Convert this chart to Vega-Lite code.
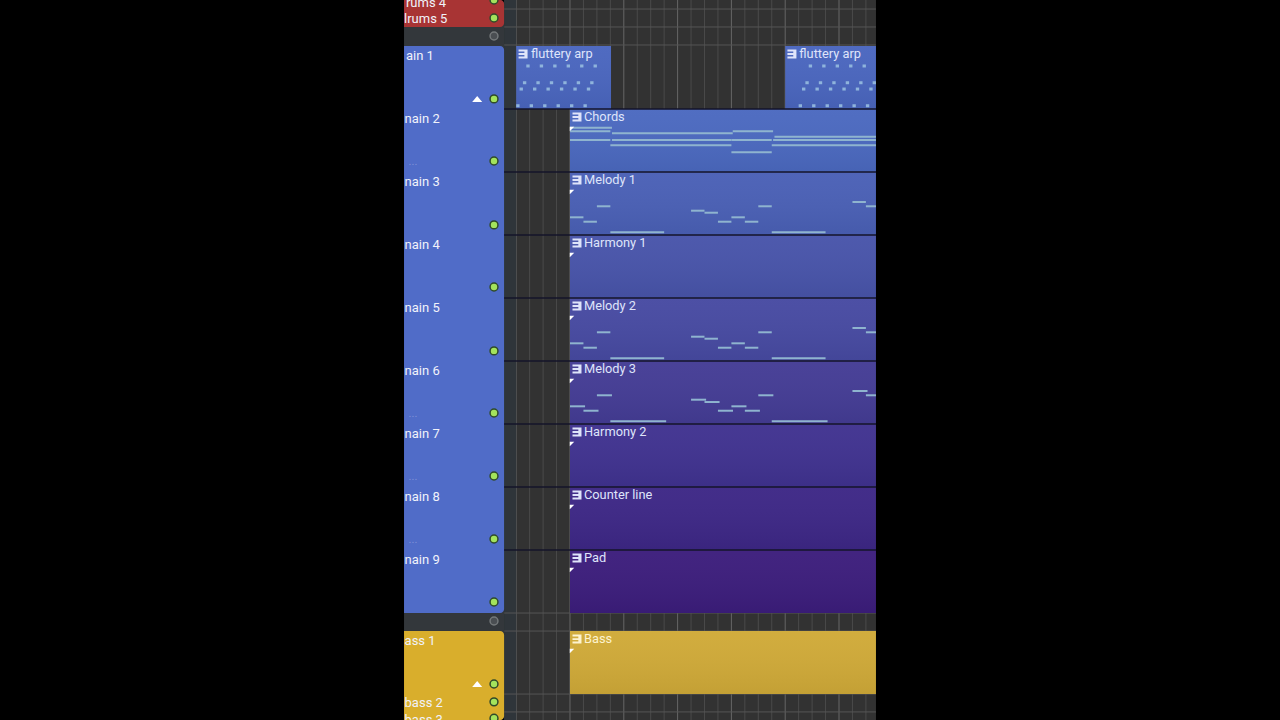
{
  "$schema": "https://vega.github.io/schema/vega-lite/v6.json",
  "width": 1280,
  "height": 720,
  "padding": 0,
  "autosize": "none",
  "background": "#000000",
  "config": {"view": {"stroke": null}},
  "resolve": {"scale": {"color": "independent"}},
  "datasets": {
    "beats": [
      {"start": -4, "kind": "bar", "lane": -0.7302, "lane2": 10.698}, {"start": -3, "kind": "beat", "lane": -0.7302, "lane2": 10.698}, {"start": -2, "kind": "beat", "lane": -0.7302, "lane2": 10.698}, {"start": -1, "kind": "beat", "lane": -0.7302, "lane2": 10.698},
      {"start": 0, "kind": "bar", "lane": -0.7302, "lane2": 10.698}, {"start": 1, "kind": "beat", "lane": -0.7302, "lane2": 10.698}, {"start": 2, "kind": "beat", "lane": -0.7302, "lane2": 10.698}, {"start": 3, "kind": "beat", "lane": -0.7302, "lane2": 10.698},
      {"start": 4, "kind": "bar", "lane": -0.7302, "lane2": 10.698}, {"start": 5, "kind": "beat", "lane": -0.7302, "lane2": 10.698}, {"start": 6, "kind": "beat", "lane": -0.7302, "lane2": 10.698}, {"start": 7, "kind": "beat", "lane": -0.7302, "lane2": 10.698},
      {"start": 8, "kind": "bar", "lane": -0.7302, "lane2": 10.698}, {"start": 9, "kind": "beat", "lane": -0.7302, "lane2": 10.698}, {"start": 10, "kind": "beat", "lane": -0.7302, "lane2": 10.698}, {"start": 11, "kind": "beat", "lane": -0.7302, "lane2": 10.698},
      {"start": 12, "kind": "bar", "lane": -0.7302, "lane2": 10.698}, {"start": 13, "kind": "beat", "lane": -0.7302, "lane2": 10.698}, {"start": 14, "kind": "beat", "lane": -0.7302, "lane2": 10.698}, {"start": 15, "kind": "beat", "lane": -0.7302, "lane2": 10.698},
      {"start": 16, "kind": "bar", "lane": -0.7302, "lane2": 10.698}, {"start": 17, "kind": "beat", "lane": -0.7302, "lane2": 10.698}, {"start": 18, "kind": "beat", "lane": -0.7302, "lane2": 10.698}, {"start": 19, "kind": "beat", "lane": -0.7302, "lane2": 10.698},
      {"start": 20, "kind": "bar", "lane": -0.7302, "lane2": 10.698}, {"start": 21, "kind": "beat", "lane": -0.7302, "lane2": 10.698}, {"start": 22, "kind": "beat", "lane": -0.7302, "lane2": 10.698}
    ],
    "clips": [
      {"name": "fluttery arp", "start": -4, "end": 3.05, "lane": 0, "lane2": 1},
      {"name": "fluttery arp", "start": 16, "end": 22.75, "lane": 0, "lane2": 1},
      {"name": "Chords", "start": 0, "end": 22.75, "lane": 1, "lane2": 2},
      {"name": "Melody 1", "start": 0, "end": 22.75, "lane": 2, "lane2": 3},
      {"name": "Harmony 1", "start": 0, "end": 22.75, "lane": 3, "lane2": 4},
      {"name": "Melody 2", "start": 0, "end": 22.75, "lane": 4, "lane2": 5},
      {"name": "Melody 3", "start": 0, "end": 22.75, "lane": 5, "lane2": 6},
      {"name": "Harmony 2", "start": 0, "end": 22.75, "lane": 6, "lane2": 7},
      {"name": "Counter line", "start": 0, "end": 22.75, "lane": 7, "lane2": 8},
      {"name": "Pad", "start": 0, "end": 22.75, "lane": 8, "lane2": 9},
      {"name": "Bass", "start": 0, "end": 22.75, "lane": 9.286, "lane2": 10.286}
    ],
    "arp": [
      {"start": -3.25, "end": -3, "lane": 0.317}, {"start": -2.25, "end": -2, "lane": 0.317}, {"start": -1.25, "end": -1, "lane": 0.317}, {"start": -0.25, "end": 0, "lane": 0.317}, {"start": 0.75, "end": 1, "lane": 0.317}, {"start": 1.75, "end": 2, "lane": 0.317},
      {"start": -3.5, "end": -3.25, "lane": 0.583}, {"start": -2.5, "end": -2.25, "lane": 0.583}, {"start": -1.5, "end": -1.25, "lane": 0.583}, {"start": -0.5, "end": -0.25, "lane": 0.583}, {"start": 0.5, "end": 0.75, "lane": 0.583}, {"start": 1.5, "end": 1.75, "lane": 0.583},
      {"start": -3.75, "end": -3.5, "lane": 0.683}, {"start": -2.75, "end": -2.5, "lane": 0.683}, {"start": -1.75, "end": -1.5, "lane": 0.683}, {"start": -0.75, "end": -0.5, "lane": 0.683}, {"start": 0.25, "end": 0.5, "lane": 0.683}, {"start": 1.25, "end": 1.5, "lane": 0.683},
      {"start": -4, "end": -3.75, "lane": 0.948}, {"start": -3, "end": -2.75, "lane": 0.948}, {"start": -2, "end": -1.75, "lane": 0.948}, {"start": -1, "end": -0.75, "lane": 0.948}, {"start": 0, "end": 0.25, "lane": 0.948}, {"start": 1, "end": 1.25, "lane": 0.948},
      {"start": 17.75, "end": 18, "lane": 0.317}, {"start": 18.75, "end": 19, "lane": 0.317}, {"start": 19.75, "end": 20, "lane": 0.317}, {"start": 20.75, "end": 21, "lane": 0.317}, {"start": 21.75, "end": 22, "lane": 0.317},
      {"start": 17.5, "end": 17.75, "lane": 0.583}, {"start": 18.5, "end": 18.75, "lane": 0.583}, {"start": 19.5, "end": 19.75, "lane": 0.583}, {"start": 20.5, "end": 20.75, "lane": 0.583}, {"start": 21.5, "end": 21.75, "lane": 0.583}, {"start": 22.5, "end": 22.75, "lane": 0.583},
      {"start": 17.25, "end": 17.5, "lane": 0.683}, {"start": 18.25, "end": 18.5, "lane": 0.683}, {"start": 19.25, "end": 19.5, "lane": 0.683}, {"start": 20.25, "end": 20.5, "lane": 0.683}, {"start": 21.25, "end": 21.5, "lane": 0.683}, {"start": 22.25, "end": 22.5, "lane": 0.683},
      {"start": 17, "end": 17.25, "lane": 0.948}, {"start": 18, "end": 18.25, "lane": 0.948}, {"start": 19, "end": 19.25, "lane": 0.948}, {"start": 20, "end": 20.25, "lane": 0.948}, {"start": 21, "end": 21.25, "lane": 0.948}, {"start": 22, "end": 22.25, "lane": 0.948}
    ],
    "notes": [
      {"start": 0, "end": 3.12, "lane": 1.297}, {"start": 0, "end": 3, "lane": 1.354}, {"start": 0, "end": 3, "lane": 1.492},
      {"start": 3.12, "end": 12.1, "lane": 1.386}, {"start": 3.12, "end": 12, "lane": 1.492}, {"start": 3, "end": 12, "lane": 1.576},
      {"start": 12.1, "end": 15.1, "lane": 1.354}, {"start": 12, "end": 15, "lane": 1.492}, {"start": 12, "end": 15, "lane": 1.687},
      {"start": 15.2, "end": 22.75, "lane": 1.44}, {"start": 15.1, "end": 22.75, "lane": 1.492}, {"start": 15, "end": 22.75, "lane": 1.576},

      {"start": 0, "end": 1, "lane": 2.719}, {"start": 1, "end": 2, "lane": 2.789}, {"start": 2, "end": 3, "lane": 2.544}, {"start": 3, "end": 7, "lane": 2.957},
      {"start": 9, "end": 10, "lane": 2.614}, {"start": 10, "end": 11, "lane": 2.646}, {"start": 11, "end": 12, "lane": 2.789}, {"start": 12, "end": 13, "lane": 2.719},
      {"start": 13, "end": 14, "lane": 2.789}, {"start": 14, "end": 15, "lane": 2.544}, {"start": 15, "end": 19, "lane": 2.957}, {"start": 21, "end": 22, "lane": 2.476}, {"start": 22, "end": 22.75, "lane": 2.544},

      {"start": 0, "end": 1, "lane": 4.719}, {"start": 1, "end": 2, "lane": 4.789}, {"start": 2, "end": 3, "lane": 4.544}, {"start": 3, "end": 7, "lane": 4.957},
      {"start": 9, "end": 10, "lane": 4.614}, {"start": 10, "end": 11, "lane": 4.646}, {"start": 11, "end": 12, "lane": 4.789}, {"start": 12, "end": 13, "lane": 4.719},
      {"start": 13, "end": 14, "lane": 4.789}, {"start": 14, "end": 15, "lane": 4.544}, {"start": 15, "end": 19, "lane": 4.957}, {"start": 21, "end": 22, "lane": 4.476}, {"start": 22, "end": 22.75, "lane": 4.544},

      {"start": 0, "end": 1.12, "lane": 5.719}, {"start": 1, "end": 2.12, "lane": 5.789}, {"start": 2, "end": 3.12, "lane": 5.544}, {"start": 3, "end": 7.15, "lane": 5.957},
      {"start": 9, "end": 10.12, "lane": 5.614}, {"start": 10, "end": 11.12, "lane": 5.651}, {"start": 11, "end": 12.12, "lane": 5.789}, {"start": 12, "end": 13.12, "lane": 5.719},
      {"start": 13, "end": 14.12, "lane": 5.789}, {"start": 14, "end": 15.12, "lane": 5.544}, {"start": 15, "end": 19.15, "lane": 5.957}, {"start": 21, "end": 22.12, "lane": 5.476}, {"start": 22, "end": 22.75, "lane": 5.544}
    ],
    "trackNames": [
      {"label": "rums 4", "start": -12.2, "lane": -0.69},
      {"label": "lrums 5", "start": -12.34, "lane": -0.43},
      {"label": "ain 1", "start": -12.2, "lane": 0.159},
      {"label": "nain 2", "start": -12.3, "lane": 1.159},
      {"label": "nain 3", "start": -12.3, "lane": 2.159},
      {"label": "nain 4", "start": -12.3, "lane": 3.159},
      {"label": "nain 5", "start": -12.3, "lane": 4.159},
      {"label": "nain 6", "start": -12.3, "lane": 5.159},
      {"label": "nain 7", "start": -12.3, "lane": 6.159},
      {"label": "nain 8", "start": -12.3, "lane": 7.159},
      {"label": "nain 9", "start": -12.3, "lane": 8.159},
      {"label": "ass 1", "start": -12.3, "lane": 9.446},
      {"label": "bass 2", "start": -12.3, "lane": 10.426},
      {"label": "bass 3", "start": -12.3, "lane": 10.696}
    ],
    "clipNames": [
      {"label": "fluttery arp", "start": -2.9, "lane": 0.127, "tone": "blue"},
      {"label": "fluttery arp", "start": 17.05, "lane": 0.127, "tone": "blue"},
      {"label": "Chords", "start": 1.04, "lane": 1.127, "tone": "blue"},
      {"label": "Melody 1", "start": 1.04, "lane": 2.127, "tone": "blue"},
      {"label": "Harmony 1", "start": 1.04, "lane": 3.127, "tone": "blue"},
      {"label": "Melody 2", "start": 1.04, "lane": 4.127, "tone": "blue"},
      {"label": "Melody 3", "start": 1.04, "lane": 5.127, "tone": "blue"},
      {"label": "Harmony 2", "start": 1.04, "lane": 6.127, "tone": "blue"},
      {"label": "Counter line", "start": 1.04, "lane": 7.127, "tone": "blue"},
      {"label": "Pad", "start": 1.04, "lane": 8.127, "tone": "blue"},
      {"label": "Bass", "start": 1.04, "lane": 9.413, "tone": "gold"}
    ],
    "icons": [
      {"start": -3.49, "lane": 0.127, "tone": "blue"},
      {"start": 16.5, "lane": 0.127, "tone": "blue"},
      {"start": 0.52, "lane": 1.127, "tone": "blue"},
      {"start": 0.52, "lane": 2.127, "tone": "blue"},
      {"start": 0.52, "lane": 3.127, "tone": "blue"},
      {"start": 0.52, "lane": 4.127, "tone": "blue"},
      {"start": 0.52, "lane": 5.127, "tone": "blue"},
      {"start": 0.52, "lane": 6.127, "tone": "blue"},
      {"start": 0.52, "lane": 7.127, "tone": "blue"},
      {"start": 0.52, "lane": 8.127, "tone": "blue"},
      {"start": 0.52, "lane": 9.413, "tone": "gold"}
    ],
    "markers": [
      {"start": 0.15, "lane": 1.317}, {"start": 0.15, "lane": 2.317}, {"start": 0.15, "lane": 3.317},
      {"start": 0.15, "lane": 4.317}, {"start": 0.15, "lane": 5.317}, {"start": 0.15, "lane": 6.317},
      {"start": 0.15, "lane": 7.317}, {"start": 0.15, "lane": 8.317}, {"start": 0.15, "lane": 9.603}
    ],
    "switches": [
      {"start": -5.65, "lane": -0.73, "state": "on"}, {"start": -5.65, "lane": -0.444, "state": "on"},
      {"start": -5.65, "lane": -0.159, "state": "off"},
      {"start": -5.65, "lane": 0.84, "state": "on"}, {"start": -5.65, "lane": 1.825, "state": "on"},
      {"start": -5.65, "lane": 2.84, "state": "on"}, {"start": -5.65, "lane": 3.825, "state": "on"},
      {"start": -5.65, "lane": 4.84, "state": "on"}, {"start": -5.65, "lane": 5.825, "state": "on"},
      {"start": -5.65, "lane": 6.825, "state": "on"}, {"start": -5.65, "lane": 7.825, "state": "on"},
      {"start": -5.65, "lane": 8.825, "state": "on"},
      {"start": -5.65, "lane": 9.127, "state": "off"},
      {"start": -5.65, "lane": 10.127, "state": "on"}, {"start": -5.65, "lane": 10.41, "state": "on"}, {"start": -5.65, "lane": 10.67, "state": "on"}
    ]
  },
  "encoding": {
    "x": {"field": "start", "type": "quantitative", "axis": null, "scale": {"domain": [-42.379, 52.788], "nice": false, "zero": false}},
    "y": {"field": "lane", "type": "quantitative", "axis": null, "scale": {"domain": [-0.7302, 10.698], "reverse": true, "nice": false, "zero": false}}
  },
  "layer": [
    {
      "data": {"values": [{"start": -4.9, "end": 22.75, "lane": -0.7302, "lane2": 10.698}]},
      "mark": {"type": "rect", "color": "#323232"},
      "encoding": {"x2": {"field": "end"}, "y2": {"field": "lane2"}}
    },
    {
      "data": {"name": "beats"},
      "mark": {"type": "rule", "strokeWidth": 1},
      "encoding": {
        "y2": {"field": "lane2"},
        "color": {"field": "kind", "type": "nominal", "legend": null, "scale": {"domain": ["bar", "beat"], "range": ["#666666", "#4a4a4a"]}}
      }
    },
    {
      "data": {"values": [{"start": -4.9, "end": -4, "lane": -0.7302, "lane2": 10.698}]},
      "mark": {"type": "rect", "color": "#2f353a"},
      "encoding": {"x2": {"field": "end"}, "y2": {"field": "lane2"}}
    },
    {
      "data": {"values": [
        {"start": -4.9, "end": 22.75, "lane": -0.587}, {"start": -4.9, "end": 22.75, "lane": -0.302}, {"start": -4.9, "end": 22.75, "lane": -0.016},
        {"start": -4.9, "end": 22.75, "lane": 9}, {"start": -4.9, "end": 22.75, "lane": 9.286}, {"start": -4.9, "end": 22.75, "lane": 10.286}, {"start": -4.9, "end": 22.75, "lane": 10.57}
      ]},
      "mark": {"type": "rule", "color": "#555555", "strokeWidth": 1},
      "encoding": {"x2": {"field": "end"}}
    },
    {
      "data": {"values": [
        {"part": "separator", "start": -13, "end": -4.9, "lane": -0.7302, "lane2": 10.698},
        {"part": "drums", "start": -13, "end": -4.9, "lane": -0.7302, "lane2": -0.302},
        {"part": "main", "start": -13, "end": -4.9, "lane": 0, "lane2": 9},
        {"part": "bass", "start": -13, "end": -4.9, "lane": 9.286, "lane2": 10.698}
      ]},
      "mark": {"type": "rect", "cornerRadius": 4},
      "encoding": {
        "x2": {"field": "end"},
        "y2": {"field": "lane2"},
        "color": {"field": "part", "type": "nominal", "legend": null, "scale": {"domain": ["separator", "drums", "main", "bass"], "range": ["#33373b", "#a83434", "#506cc8", "#d9ae2c"]}}
      }
    },
    {
      "data": {"name": "clips"},
      "mark": {"type": "rect"},
      "encoding": {
        "x2": {"field": "end"},
        "y2": {"field": "lane2"},
        "color": {"field": "name", "type": "nominal", "legend": null, "scale": {
          "domain": ["fluttery arp", "Chords", "Melody 1", "Harmony 1", "Melody 2", "Melody 3", "Harmony 2", "Counter line", "Pad", "Bass"],
          "range": ["#4a66bf", "#4b69c0", "#4a60b6", "#4854aa", "#474aa2", "#443c95", "#403290", "#3d2786", "#3c1d7c", "#d0aa38"]
        }}
      }
    },
    {
      "data": {"name": "clips"},
      "mark": {"type": "rect", "color": {
        "gradient": "linear", "x1": 0, "y1": 0, "x2": 0, "y2": 1,
        "stops": [{"offset": 0, "color": "rgba(255,255,255,0.03)"}, {"offset": 1, "color": "rgba(0,0,0,0.06)"}]
      }},
      "encoding": {"x2": {"field": "end"}, "y2": {"field": "lane2"}}
    },
    {
      "data": {"values": [
        {"start": -4.9, "end": 22.75, "lane": 1}, {"start": -4.9, "end": 22.75, "lane": 2}, {"start": -4.9, "end": 22.75, "lane": 3}, {"start": -4.9, "end": 22.75, "lane": 4},
        {"start": -4.9, "end": 22.75, "lane": 5}, {"start": -4.9, "end": 22.75, "lane": 6}, {"start": -4.9, "end": 22.75, "lane": 7}, {"start": -4.9, "end": 22.75, "lane": 8}
      ]},
      "mark": {"type": "rule", "color": "#14142a", "strokeWidth": 1.5},
      "encoding": {"x2": {"field": "end"}}
    },
    {
      "data": {"name": "arp"},
      "mark": {"type": "rule", "color": "#8fb4dc", "strokeWidth": 3},
      "encoding": {"x2": {"field": "end"}}
    },
    {
      "data": {"name": "notes"},
      "mark": {"type": "rule", "color": "#8fb4cf", "strokeWidth": 2},
      "encoding": {"x2": {"field": "end"}}
    },
    {
      "data": {"name": "trackNames"},
      "mark": {"type": "text", "align": "left", "baseline": "middle", "font": "Roboto", "fontSize": 13, "color": "#f0f2fa"},
      "encoding": {"text": {"field": "label"}}
    },
    {
      "data": {"values": [
        {"label": "...", "start": -12, "lane": 1.84},
        {"label": "...", "start": -12, "lane": 5.84},
        {"label": "...", "start": -12, "lane": 6.84},
        {"label": "...", "start": -12, "lane": 7.84}
      ]},
      "mark": {"type": "text", "align": "left", "baseline": "middle", "font": "Roboto", "fontSize": 11, "color": "#7f93d8"},
      "encoding": {"text": {"field": "label"}}
    },
    {
      "data": {"name": "clipNames"},
      "mark": {"type": "text", "align": "left", "baseline": "middle", "font": "Roboto", "fontSize": 12.8},
      "encoding": {
        "text": {"field": "label"},
        "color": {"field": "tone", "type": "nominal", "legend": null, "scale": {"domain": ["blue", "gold"], "range": ["#dfe4fa", "#fdf3cf"]}}
      }
    },
    {
      "data": {"name": "icons"},
      "mark": {"type": "point", "filled": true, "opacity": 1, "size": 81, "shape": "M-1,-1 H1 V1 H-1 V0.55 H0.3 V0.2 H-1 V-0.2 H0.3 V-0.55 H-1 Z"},
      "encoding": {
        "color": {"field": "tone", "type": "nominal", "legend": null, "scale": {"domain": ["blue", "gold"], "range": ["#dfe4fa", "#fdf3cf"]}}
      }
    },
    {
      "data": {"name": "markers"},
      "mark": {"type": "point", "filled": true, "opacity": 1, "size": 20, "color": "#ffffff", "shape": "M-1,-1 L1,-1 L-1,1 Z"}
    },
    {
      "data": {"values": [{"start": -6.9, "lane": 0.84}, {"start": -6.9, "lane": 10.127}]},
      "mark": {"type": "point", "filled": true, "opacity": 1, "size": 100, "color": "#ffffff", "shape": "M-1,0.6 L0,-0.6 L1,0.6 Z"}
    },
    {
      "data": {"name": "switches"},
      "mark": {"type": "point", "filled": true, "opacity": 1, "size": 62, "strokeWidth": 1.5},
      "encoding": {
        "color": {"field": "state", "type": "nominal", "legend": null, "scale": {"domain": ["on", "off"], "range": ["#a3e35c", "#4a4e52"]}},
        "stroke": {"field": "state", "type": "nominal", "legend": null, "scale": {"domain": ["on", "off"], "range": ["#2f4a2a", "#74787a"]}}
      }
    },
    {
      "data": {"values": [
        {"start": -42.379, "end": -12.34, "lane": -0.7302, "lane2": 10.698},
        {"start": 22.75, "end": 52.788, "lane": -0.7302, "lane2": 10.698}
      ]},
      "mark": {"type": "rect", "color": "#000000"},
      "encoding": {"x2": {"field": "end"}, "y2": {"field": "lane2"}}
    }
  ]
}
